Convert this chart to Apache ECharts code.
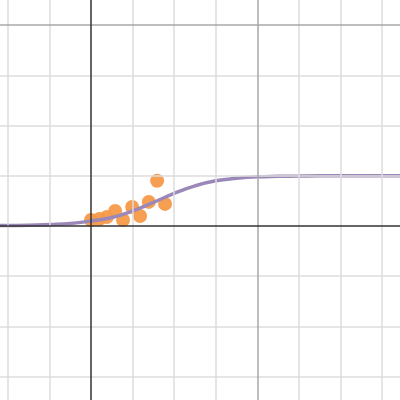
<!DOCTYPE html>
<html>
<head>
<meta charset="utf-8">
<script src="https://cdn.jsdelivr.net/npm/echarts@6/dist/echarts.min.js"></script>
<style>html,body{margin:0;padding:0;background:#fff}#main{width:400px;height:400px}</style>
</head>
<body>
<div id="main"></div>
<script>
// scattered data points
var ptX = [0, 0.2, 0.38, 0.58, 0.77, 0.99, 1.18, 1.39, 1.59, 1.78];
var ptY = [0.12, 0.14, 0.18, 0.30, 0.12, 0.38, 0.20, 0.48, 0.90, 0.44];
// fitted curve
var curveX = [-2.5, -2, -1.5, -1, -0.5, 0, 0.5, 1, 1.5, 2, 2.5, 3, 3.5, 4, 4.5, 5, 5.5, 6, 6.5, 7, 7.5];
var curveY = [0.005, 0.01, 0.015, 0.03, 0.05, 0.1, 0.17, 0.3, 0.47, 0.65, 0.8, 0.9, 0.95, 0.98, 0.99, 0.995, 1, 1, 1, 1, 1];
// grid lines
var gridX = [-2, -1, 1, 2, 3, 5, 6, 7];
var gridY = [-3, -2, -1, 1, 2, 3];
var majorX = [4];
var majorY = [4];

var lines = [];
gridX.forEach(function (v) { lines.push({ xAxis: v, lineStyle: { color: '#dcdcdc', width: 1.5, type: 'solid' } }); });
gridY.forEach(function (v) { lines.push({ yAxis: v, lineStyle: { color: '#dcdcdc', width: 1.5, type: 'solid' } }); });
majorX.forEach(function (v) { lines.push({ xAxis: v, lineStyle: { color: '#a8a8a8', width: 1.5, type: 'solid' } }); });
majorY.forEach(function (v) { lines.push({ yAxis: v, lineStyle: { color: '#a8a8a8', width: 1.5, type: 'solid' } }); });
lines.push({ xAxis: 0, lineStyle: { color: '#333', width: 1.5, type: 'solid' } });
lines.push({ yAxis: 0, lineStyle: { color: '#333', width: 1.5, type: 'solid' } });

var myChart = echarts.init(document.getElementById('main'));
var option = {
    animation: false,
    grid: { left: 0, right: 0, top: 0, bottom: 0 },
    xAxis: { type: 'value', min: -2.1875, max: 7.428, show: false },
    yAxis: { type: 'value', min: -3.466, max: 4.502, show: false },
    series: [
        {
            type: 'line', data: [], silent: true,
            markLine: { symbol: 'none', silent: true, label: { show: false }, data: lines }
        },
        {
            type: 'scatter', symbolSize: 14,
            data: ptX.map(function (x, i) { return [x, ptY[i]]; }),
            itemStyle: { color: '#f69a4a', opacity: 0.95 }
        },
        {
            type: 'line', smooth: true, showSymbol: false,
            data: curveX.map(function (x, i) { return [x, curveY[i]]; }),
            lineStyle: { color: '#9b88b8', width: 3.5 }
        }
    ]
};
myChart.setOption(option);
</script>
</body>
</html>
